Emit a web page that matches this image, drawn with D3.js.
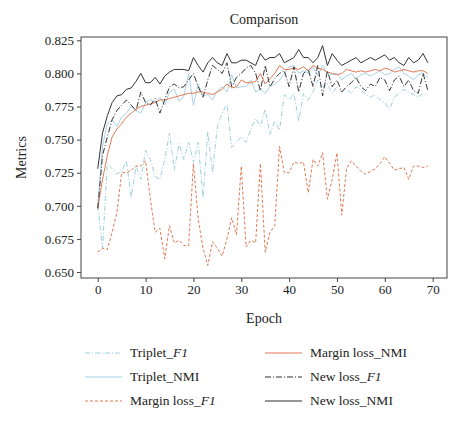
<!DOCTYPE html>
<html><head><meta charset="utf-8">
<script src="https://cdn.jsdelivr.net/npm/d3@7"></script>
<style>body{margin:0;background:#fff;} text{font-family:"Liberation Serif",serif;}</style>
</head><body><svg id="c" width="474" height="425"></svg>
<script>
var epochs = d3.range(70);
var tripletF1 = [0.700,0.668,0.732,0.728,0.724,0.726,0.734,0.706,0.730,0.720,0.742,0.735,0.722,0.720,0.735,0.755,0.727,0.747,0.735,0.748,0.733,0.748,0.706,0.756,0.725,0.760,0.770,0.777,0.744,0.748,0.752,0.748,0.758,0.766,0.760,0.773,0.754,0.764,0.757,0.784,0.780,0.785,0.764,0.785,0.780,0.786,0.795,0.790,0.792,0.785,0.790,0.786,0.788,0.785,0.790,0.788,0.784,0.782,0.784,0.780,0.778,0.773,0.782,0.785,0.788,0.786,0.784,0.782,0.785,0.783];
var tripletNMI = [0.700,0.745,0.762,0.765,0.760,0.767,0.770,0.775,0.772,0.770,0.778,0.780,0.778,0.782,0.776,0.786,0.788,0.779,0.783,0.800,0.776,0.792,0.783,0.784,0.780,0.787,0.790,0.786,0.799,0.789,0.790,0.790,0.795,0.786,0.788,0.785,0.790,0.792,0.795,0.800,0.805,0.806,0.800,0.802,0.800,0.805,0.798,0.806,0.800,0.799,0.800,0.795,0.798,0.800,0.796,0.799,0.800,0.798,0.800,0.802,0.799,0.800,0.803,0.805,0.800,0.798,0.795,0.799,0.800,0.797];
var marginF1 = [0.665,0.668,0.667,0.680,0.695,0.725,0.725,0.727,0.730,0.730,0.734,0.705,0.680,0.683,0.660,0.685,0.672,0.674,0.670,0.670,0.732,0.690,0.668,0.655,0.673,0.668,0.662,0.675,0.691,0.678,0.730,0.669,0.674,0.672,0.732,0.665,0.680,0.685,0.745,0.725,0.725,0.733,0.732,0.733,0.710,0.735,0.730,0.740,0.705,0.720,0.740,0.693,0.728,0.734,0.730,0.726,0.724,0.726,0.728,0.732,0.737,0.732,0.727,0.728,0.729,0.720,0.730,0.730,0.729,0.730];
var marginNMI = [0.698,0.720,0.738,0.752,0.758,0.762,0.767,0.770,0.773,0.775,0.776,0.777,0.778,0.780,0.780,0.781,0.782,0.783,0.784,0.785,0.785,0.786,0.786,0.785,0.784,0.786,0.788,0.792,0.789,0.790,0.795,0.793,0.793,0.794,0.800,0.792,0.796,0.800,0.806,0.803,0.803,0.804,0.803,0.805,0.802,0.806,0.804,0.803,0.801,0.800,0.799,0.800,0.803,0.802,0.801,0.802,0.801,0.802,0.803,0.802,0.804,0.803,0.801,0.802,0.803,0.802,0.801,0.802,0.802,0.800];
var newF1 = [0.698,0.738,0.752,0.765,0.772,0.776,0.780,0.776,0.772,0.786,0.778,0.776,0.781,0.770,0.780,0.790,0.792,0.789,0.790,0.795,0.800,0.790,0.782,0.795,0.806,0.803,0.800,0.808,0.790,0.797,0.800,0.804,0.806,0.800,0.787,0.806,0.790,0.796,0.800,0.802,0.790,0.805,0.786,0.800,0.803,0.790,0.806,0.783,0.802,0.790,0.795,0.786,0.790,0.793,0.797,0.790,0.787,0.792,0.790,0.797,0.795,0.787,0.795,0.798,0.790,0.795,0.787,0.785,0.800,0.787];
var newNMI = [0.728,0.755,0.768,0.778,0.783,0.784,0.788,0.789,0.794,0.800,0.793,0.793,0.797,0.792,0.798,0.801,0.803,0.803,0.803,0.802,0.812,0.806,0.801,0.808,0.812,0.808,0.806,0.815,0.808,0.808,0.810,0.810,0.808,0.806,0.815,0.810,0.812,0.812,0.815,0.808,0.810,0.812,0.818,0.812,0.812,0.808,0.812,0.821,0.806,0.815,0.810,0.806,0.808,0.810,0.812,0.808,0.810,0.812,0.810,0.812,0.814,0.810,0.812,0.808,0.806,0.812,0.808,0.810,0.815,0.808];
var yTicks = [0.650,0.675,0.700,0.725,0.750,0.775,0.800,0.825];
var xTicks = [0,10,20,30,40,50,60,70];

var series = [
  {name:"Triplet_", it:"F1", v:tripletF1, c:"#9fd0e0", d:"5,2,1,2"},
  {name:"Margin loss_NMI", v:marginNMI, c:"#e07a55", d:null},
  {name:"Triplet_NMI", v:tripletNMI, c:"#a8d2e6", d:null},
  {name:"New loss_", it:"F1", v:newF1, c:"#333", d:"6,2,1,2"},
  {name:"Margin loss_", it:"F1", v:marginF1, c:"#e07a55", d:"3,2"},
  {name:"New loss_NMI", v:newNMI, c:"#333", d:null}
];
var draw = [2,0,4,1,3,5];

var svg = d3.select("#c");
var m = {l:81, r:447, t:37, b:278};
var x = d3.scaleLinear().domain([-3.5,73]).range([m.l,m.r]);
var y = d3.scaleLinear().domain([0.6455,0.8275]).range([m.b,m.t]);

svg.append("rect").attr("x",m.l).attr("y",m.t).attr("width",m.r-m.l).attr("height",m.b-m.t)
  .attr("fill","none").attr("stroke","#444").attr("stroke-width",1);

var ya = svg.append("g").attr("transform","translate("+m.l+",0)")
  .call(d3.axisLeft(y).tickValues(yTicks).tickFormat(d3.format(".3f")).tickSize(4).tickSizeOuter(0));
var xa = svg.append("g").attr("transform","translate(0,"+m.b+")")
  .call(d3.axisBottom(x).tickValues(xTicks).tickSize(4).tickSizeOuter(0));
[ya,xa].forEach(function(a){
  a.select(".domain").remove();
  a.selectAll("text").attr("font-family","Liberation Serif, serif").attr("font-size",13).attr("fill","#222");
  a.selectAll("line").attr("stroke","#444");
});

var line = d3.line().x(function(d,i){return x(i);}).y(function(d){return y(d);});
draw.forEach(function(k){
  var s = series[k];
  svg.append("path").attr("d",line(s.v)).attr("fill","none").attr("stroke",s.c)
    .attr("stroke-width",1).attr("stroke-dasharray",s.d);
});

svg.append("text").attr("x",(m.l+m.r)/2).attr("y",24).attr("text-anchor","middle")
  .attr("font-size",14).attr("fill","#222").text("Comparison");
svg.append("text").attr("x",(m.l+m.r)/2).attr("y",323).attr("text-anchor","middle")
  .attr("font-size",14).attr("fill","#222").text("Epoch");
svg.append("text").attr("transform","translate(26,"+((m.t+m.b)/2)+") rotate(-90)")
  .attr("text-anchor","middle").attr("font-size",14).attr("fill","#222").text("Metrics");

series.forEach(function(s,i){
  var col = i%2, row = Math.floor(i/2);
  var lx = col ? 265 : 85, ly = 353 + row*24;
  svg.append("line").attr("x1",lx).attr("x2",lx+37).attr("y1",ly).attr("y2",ly)
    .attr("stroke",s.c).attr("stroke-width",1.2).attr("stroke-dasharray",s.d);
  var t = svg.append("text").attr("x",lx+45).attr("y",ly+4).attr("font-size",13.5).attr("fill","#222");
  t.append("tspan").text(s.name);
  if(s.it) t.append("tspan").attr("font-style","italic").text(s.it);
});
</script></body></html>
